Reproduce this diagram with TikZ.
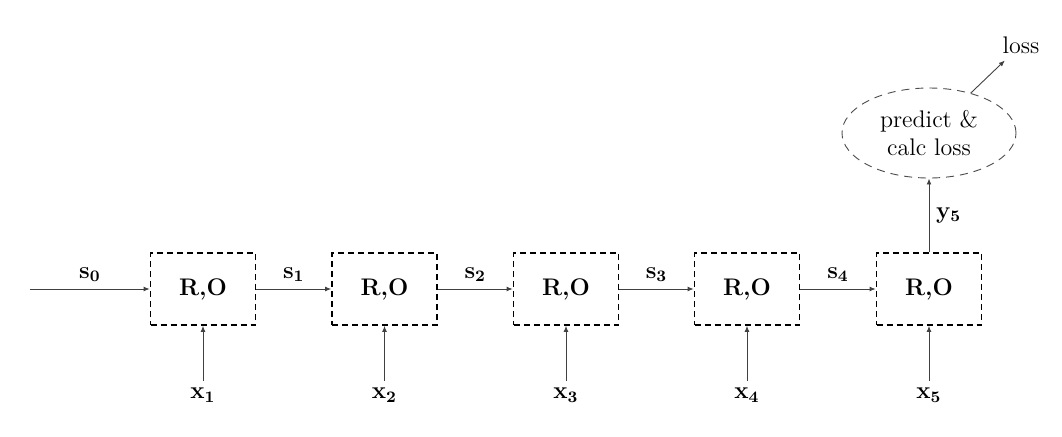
\documentclass[tikz,border=0pt]{standalone}
\usetikzlibrary{arrows.meta,shapes.geometric}
\begin{document}
\begin{tikzpicture}[x=0.5pt,y=-0.5pt,
  font=\fontsize{12}{14.4}\selectfont,
  robox/.style={draw,dashed,line width=0.8pt,dash pattern=on 3pt off 2pt,
    minimum width=52.5pt,minimum height=36pt,inner sep=0pt,font=\fontsize{12}{14.4}\selectfont\bfseries},
  arr/.style={-{Latex[length=3pt,width=2.4pt]},line width=0.45pt,draw=black!75},
  lossell/.style={ellipse,draw=black!70,dashed,dash pattern=on 4pt off 3pt,line width=0.45pt,
    minimum width=87pt,minimum height=45pt,inner sep=0pt,align=center}]
\useasboundingbox (0,0) rectangle (1062,436);
\foreach \i/\xx in {1/203,2/384.5,3/566,4/747,5/929}{
  \node[robox] (b\i) at (\xx,289) {R,O};
  \node (x\i) at (\xx,395) {$\mathbf{x_\i}$};
  \draw[arr] (x\i) -- (b\i);
}
\coordinate (start) at (30,289);
\draw[arr] (start) -- node[above] {$\mathbf{s_0}$} (b1);
\draw[arr] (b1) -- node[above] {$\mathbf{s_1}$} (b2);
\draw[arr] (b2) -- node[above] {$\mathbf{s_2}$} (b3);
\draw[arr] (b3) -- node[above] {$\mathbf{s_3}$} (b4);
\draw[arr] (b4) -- node[above] {$\mathbf{s_4}$} (b5);
\node[lossell] (ell) at (929,133) {predict \&\\calc loss};
\draw[arr] (b5) -- node[right] {$\mathbf{y_5}$} (ell);
\node (loss) at (1021,45) {loss};
\draw[arr] (ell) -- (loss);
\end{tikzpicture}
\end{document}
